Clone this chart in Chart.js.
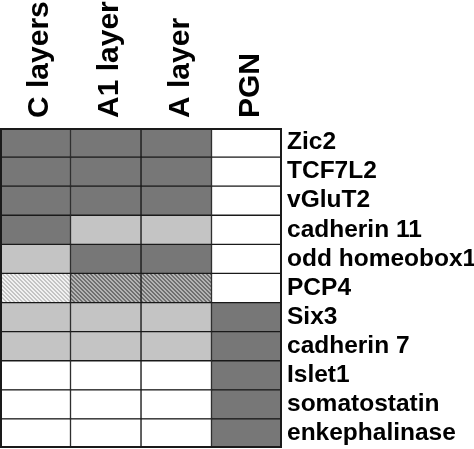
<!DOCTYPE html>
<html>
<head>
<meta charset="utf-8">
<script src="https://cdn.jsdelivr.net/npm/chart.js@4/dist/chart.umd.min.js"></script>
<style>
  html, body { margin: 0; padding: 0; background: #fff; }
  #wrap { width: 474px; height: 449px; }
</style>
</head>
<body>
<div id="wrap"><canvas id="c" width="474" height="449"></canvas></div>
<script>
// Categories
const geneLabels = ['Zic2', 'TCF7L2', 'vGluT2', 'cadherin 11', 'odd homeobox1', 'PCP4',
  'Six3', 'cadherin 7', 'Islet1', 'somatostatin', 'enkephalinase'];
const regionLabels = ['C layers', 'A1 layer', 'A layer', 'PGN'];

// Expression level per region (H = strong, L = weak, N = none,
// h = hatched strong, l = hatched weak)
const cLayers = ['H', 'H', 'H', 'H', 'L', 'l', 'L', 'L', 'N', 'N', 'N'];
const a1Layer = ['H', 'H', 'H', 'L', 'H', 'h', 'L', 'L', 'N', 'N', 'N'];
const aLayer  = ['H', 'H', 'H', 'L', 'H', 'h', 'L', 'L', 'N', 'N', 'N'];
const pgn     = ['N', 'N', 'N', 'N', 'N', 'N', 'H', 'H', 'H', 'H', 'H'];

const regionLevels = [cLayers, a1Layer, aLayer, pgn];

function makeHatch(c1, c2) {
  const t = document.createElement('canvas');
  t.width = 4; t.height = 4;
  const g = t.getContext('2d');
  for (let y = 0; y < 4; y++) {
    for (let x = 0; x < 4; x++) {
      g.fillStyle = ((x - y + 8) % 4 < 2) ? c1 : c2;
      g.fillRect(x, y, 1, 1);
    }
  }
  return g.createPattern(t, 'repeat');
}

const ctx = document.getElementById('c').getContext('2d');
const fills = {
  H: '#777777',
  L: '#c4c4c4',
  N: '#ffffff',
  h: makeHatch('#707070', '#b4b4b4'),
  l: makeHatch('#c4c4c4', '#f2f2f2')
};

const datasets = regionLevels.map((levels, i) => ({
  label: regionLabels[i],
  data: levels.map(() => 1),
  backgroundColor: levels.map(l => fills[l]),
  borderColor: '#1a1a1a',
  borderWidth: 1,
  borderSkipped: false,
  barPercentage: 1,
  categoryPercentage: 1,
  xAxisID: 'x'
}));

const frame = {
  id: 'frame',
  afterDatasetsDraw(chart) {
    const a = chart.chartArea;
    const c = chart.ctx;
    c.save();
    c.strokeStyle = '#1a1a1a';
    c.lineWidth = 2;
    c.strokeRect(a.left + 1, a.top + 1, a.right - a.left - 2, a.bottom - a.top - 2);
    c.restore();
  }
};

new Chart(ctx, {
  type: 'bar',
  data: { labels: geneLabels, datasets },
  plugins: [frame],
  options: {
    indexAxis: 'y',
    responsive: false,
    animation: false,
    layout: { padding: { left: 0, right: 0, top: 0, bottom: 1 } },
    plugins: { legend: { display: false }, tooltip: { enabled: false } },
    scales: {
      x: {
        type: 'linear', display: false, stacked: true, min: 0, max: regionLabels.length
      },
      x2: {
        type: 'category', position: 'top', labels: regionLabels, offset: true,
        grid: { display: false, drawTicks: false },
        border: { display: false },
        ticks: {
          color: '#000', minRotation: 90, maxRotation: 90, padding: 10, labelOffset: 40,
          autoSkip: false,
          font: { family: '"Liberation Sans", Arial, Helvetica, sans-serif', size: 30, weight: 'bold' }
        },
        afterFit: s => { s.height = 128; s.paddingLeft = 0; s.paddingRight = 0; }
      },
      y: {
        type: 'category', position: 'right', stacked: true,
        grid: { display: false, drawTicks: false },
        border: { display: false },
        ticks: {
          color: '#000', padding: 5, crossAlign: 'near', autoSkip: false,
          font: { family: '"Liberation Sans", Arial, Helvetica, sans-serif', size: 24.5, weight: 'bold' }
        },
        afterFit: s => { s.width = 192; s.paddingTop = 0; s.paddingBottom = 0; }
      }
    }
  }
});
</script>
</body>
</html>
